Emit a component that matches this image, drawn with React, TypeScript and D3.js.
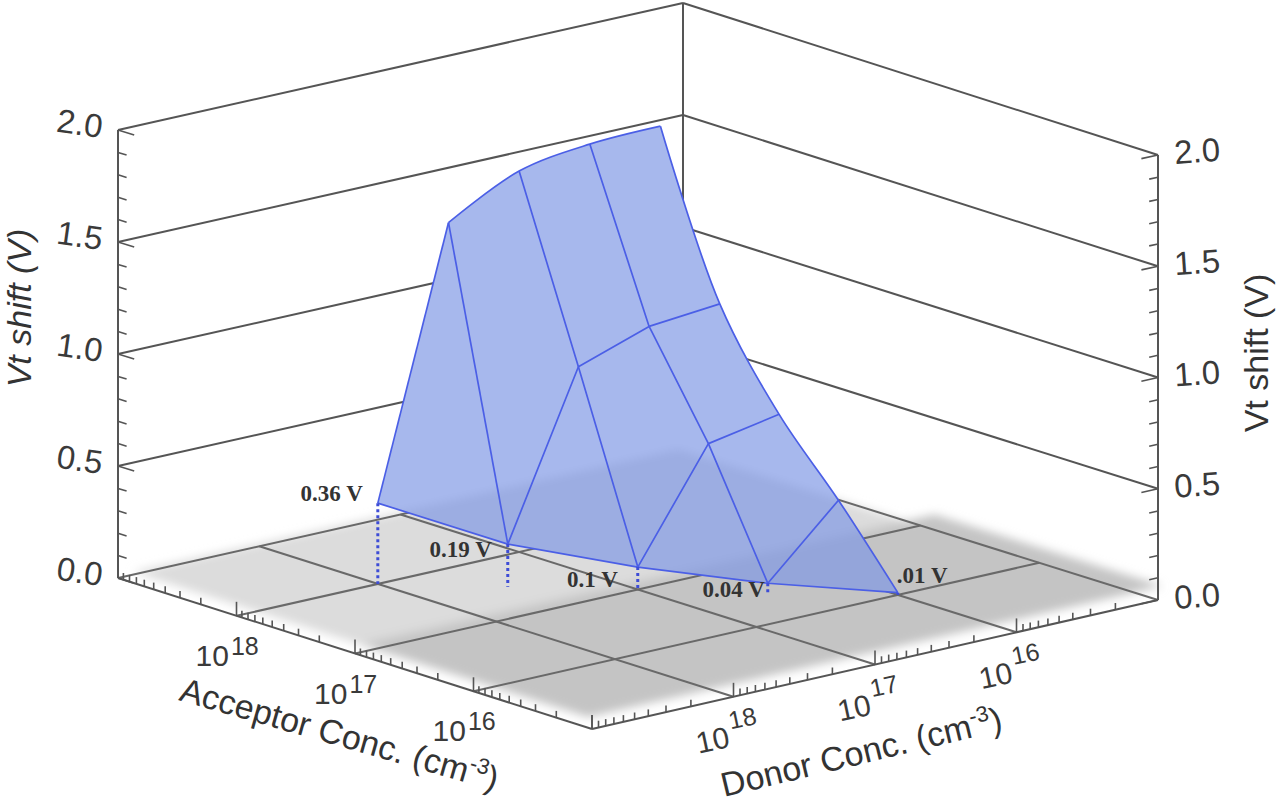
import { useMemo } from 'react'
import * as d3 from 'd3'

// log10 of the concentrations (cm^-3) at the surface grid nodes
const acceptorLevels = [18, 17.5, 17, 16.5, 16]
const donorLevels = [18, 17.5, 17, 16.5, 16]

// Vt shift (V); each row is one acceptor level, starting on the diagonal donor = acceptor
const vtRow18 = [0.36, 1.54, 1.7, 1.75, 1.76]
const vtRow175 = [0.19, 0.91, 1.02, 1.05]
const vtRow17 = [0.1, 0.58, 0.64]
const vtRow165 = [0.04, 0.34]
const vtRow16 = [0.01]
const vtRows = [vtRow18, vtRow175, vtRow17, vtRow165, vtRow16]

const diagonalLabels = ['0.36 V', '0.19 V', '0.1 V', '0.04 V', '.01 V']

const concDomain = [19, 15]
const decadeTicks = [18, 17, 16]
const decadeLabels = ['18', '17', '16']
const majorDecades = [19, 18, 17, 16, 15]
const minorMultipliers = [2, 3, 4, 5, 6, 7, 8, 9]
const vtTicks = [0, 0.5, 1, 1.5, 2]
const vtTickLabels = ['0.0', '0.5', '1.0', '1.5', '2.0']

// layout of the projected box (screen corners of the floor and pixels per volt)
const W = 1280
const H = 810
const cL = [118, 578]
const cF = [592, 729]
const cR = [1158, 600]
const cB = [683, 451]
const zPx = { L: 224, F: 226, R: 222.5, B: 224 }
const labelOffsets: [number, number, string][] = [
  [-15, -2, 'end'],
  [-16, 13, 'end'],
  [-20, 20, 'end'],
  [-3, 14, 'end'],
  [-1, -10, 'start'],
]

const sans = 'Liberation Sans, Arial, Helvetica, sans-serif'
const gridColor = '#555'
const meshColor = '#4b5fe6'

type P = [number, number]

const uOf = d3.scaleLinear().domain(concDomain).range([0, 1])
const vOf = d3.scaleLinear().domain(concDomain).range([0, 1])

function proj(u: number, v: number, z = 0): P {
  const wL = (1 - u) * (1 - v)
  const wF = u * (1 - v)
  const wR = u * v
  const wB = (1 - u) * v
  const x = wL * cL[0] + wF * cF[0] + wR * cR[0] + wB * cB[0]
  const y = wL * cL[1] + wF * cF[1] + wR * cR[1] + wB * cB[1]
  const zp = wL * zPx.L + wF * zPx.F + wR * zPx.R + wB * zPx.B
  return [x, y - z * zp]
}

const pt = (a: number, d: number, z: number) => proj(uOf(a), vOf(d), z)
const poly = (pts: P[]) => 'M' + pts.map((p) => p[0].toFixed(1) + ',' + p[1].toFixed(1)).join('L')

export default function App() {
  const g = useMemo(() => {
    const nodes: P[][] = vtRows.map((row, i) =>
      row.map((z, j) => pt(acceptorLevels[i], donorLevels[i + j], z))
    )
    const curve = d3.line<P>().curve(d3.curveCatmullRom.alpha(0.5))
    const straight = d3.line<P>()
    const front = nodes.map((r) => r[0])
    const right = nodes.map((r) => r[r.length - 1]).reverse()
    const topRow = [...nodes[0]].reverse()
    const top = topRow.slice(0, topRow.length - 1)
    const leftDrop = topRow.slice(topRow.length - 2)
    const edges = [straight(front), curve(right), curve(top), straight(leftDrop)] as string[]
    const outline = edges.map((d, i) => (i === 0 ? d : d.replace(/^M/, 'L'))).join('') + 'Z'

    const rowLines = [1, 2, 3].map((i) => poly(nodes[i]))
    const colLines = [1, 2, 3].map((k) => {
      const pts: P[] = []
      for (let i = 0; i <= k; i++) pts.push(nodes[i][k - i])
      return poly(pts)
    })

    const floorLight = poly([proj(-0.01, 0.035), proj(0.95, 0.035), proj(0.95, 1.0), proj(-0.01, 1.0)]) + 'Z'
    const floorDark = poly([proj(0.47, 0.035), proj(0.95, 0.035), proj(0.95, 1.05), proj(0.47, 1.05)]) + 'Z'

    const floorGrid = [
      ...decadeTicks.map((a) => poly([proj(uOf(a), 0), proj(uOf(a), 1)])),
      ...decadeTicks.map((d) => poly([proj(0, vOf(d)), proj(1, vOf(d))])),
      poly([proj(0, 0), proj(0, 1)]),
      poly([proj(0, 1), proj(1, 1)]),
    ]
    const wallLines = vtTicks
      .filter((z) => z > 0)
      .flatMap((z) => [poly([proj(0, 0, z), proj(0, 1, z)]), poly([proj(0, 1, z), proj(1, 1, z)])])
    wallLines.push(poly([proj(0, 1, 0), proj(0, 1, 2)]))

    const axes = [
      poly([proj(0, 0, 0), proj(0, 0, 2)]),
      poly([proj(1, 1, 0), proj(1, 1, 2)]),
      poly([proj(0, 0), proj(1, 0)]),
      poly([proj(1, 0), proj(1, 1)]),
    ]

    const ticks: string[] = []
    d3.range(0, 2.0001, 0.1).forEach((z, i) => {
      const len = i % 5 === 0 ? 17 : 9
      ticks.push(poly([proj(0, 0, z), proj(len / 497, 0, z)]))
      ticks.push(poly([proj(1, 1, z), proj(1, 1 - len / 580, z)]))
    })
    const logVals: [number, boolean][] = [
      ...majorDecades.map((e) => [e, true] as [number, boolean]),
      ...[15, 16, 17, 18].flatMap((e) =>
        minorMultipliers.map((k) => [e + Math.log10(k), false] as [number, boolean])
      ),
    ]
    logVals.forEach(([c, major]) => {
      const h = major ? 0.062 : 0.03
      ticks.push(poly([proj(uOf(c), 0, 0), proj(uOf(c), 0, h)]))
      ticks.push(poly([proj(1, vOf(c), 0), proj(1, vOf(c), h)]))
    })

    const drops = front.map((p, i) => ({
      top: p,
      bottom: pt(acceptorLevels[i], donorLevels[i], 0),
    }))

    return { outline, edges, rowLines, colLines, floorLight, floorDark, floorGrid, wallLines, axes, ticks, drops }
  }, [])

  return (
    <svg
      width={W}
      height={H}
      viewBox={`0 0 ${W} ${H}`}
      style={{ position: 'absolute', left: 0, top: 0, background: '#fff' }}
    >
      <defs>
        <filter id="soft" x="-10%" y="-20%" width="120%" height="140%">
          <feGaussianBlur stdDeviation="5" />
        </filter>
        <mask id="behind" maskUnits="userSpaceOnUse" x="0" y="0" width={W} height={H}>
          <rect width={W} height={H} fill="white" />
          <path d={g.outline} fill="black" />
        </mask>
      </defs>

      {/* floor */}
      <g filter="url(#soft)">
        <path d={g.floorLight} fill="#dcdcdc" />
        <path d={g.floorDark} fill="#c4c4c4" />
      </g>

      {/* walls and floor grid, hidden behind the surface */}
      <g mask="url(#behind)" fill="none" stroke={gridColor} strokeWidth={2}>
        {g.wallLines.map((d, i) => (
          <path key={'w' + i} d={d} />
        ))}
        {g.floorGrid.map((d, i) => (
          <path key={'f' + i} d={d} stroke="#696969" />
        ))}
      </g>

      <g fill="none" stroke={gridColor} strokeWidth={2}>
        {g.axes.map((d, i) => (
          <path key={'a' + i} d={d} />
        ))}
        {g.ticks.map((d, i) => (
          <path key={'t' + i} d={d} strokeWidth={1.6} />
        ))}
      </g>

      {/* surface */}
      <path d={g.outline} fill="rgb(125,150,228)" fillOpacity={0.68} stroke="none" />
      <g fill="none" stroke={meshColor} strokeWidth={1.7} strokeLinejoin="round">
        {g.edges.map((d, i) => (
          <path key={'e' + i} d={d} />
        ))}
        {g.rowLines.map((d, i) => (
          <path key={'r' + i} d={d} />
        ))}
        {g.colLines.map((d, i) => (
          <path key={'c' + i} d={d} />
        ))}
      </g>

      {/* drop lines and values on the diagonal */}
      {g.drops.map((dp, i) => (
        <g key={'d' + i}>
          <line
            x1={dp.top[0]}
            y1={dp.top[1]}
            x2={dp.bottom[0]}
            y2={dp.bottom[1]}
            stroke="#3d4cd6"
            strokeWidth={3}
            strokeDasharray="3 3"
          />
          <text
            x={dp.top[0] + labelOffsets[i][0]}
            y={dp.top[1] + labelOffsets[i][1]}
            textAnchor={labelOffsets[i][2] as any}
            fontFamily="Liberation Serif, Times New Roman, serif"
            fontWeight="bold"
            fontSize={23}
            fill="#333"
          >
            {diagonalLabels[i]}
          </text>
        </g>
      ))}

      {/* Vt tick labels */}
      {vtTicks.map((z, i) => {
        const [lx, ly] = proj(0, 0, z)
        const [rx, ry] = proj(1, 1, z)
        return (
          <g key={'vl' + i} fontFamily={sans} fontSize={33} fill="#3a3a3a">
            <text transform={`translate(${lx - 17},${ly + 8}) rotate(8)`} textAnchor="end">
              {vtTickLabels[i]}
            </text>
            <text transform={`translate(${rx + 17},${ry + 9}) rotate(-4)`}>{vtTickLabels[i]}</text>
          </g>
        )
      })}

      {/* decade labels */}
      {decadeTicks.map((e, i) => {
        const [ax, ay] = proj(uOf(e), 0, 0)
        const [dx, dy] = proj(1, vOf(e), 0)
        return (
          <g key={'dl' + i} fontFamily={sans} fill="#3a3a3a">
            <text x={ax - 41} y={ay + 50} fontSize={30}>
              10<tspan dx={2} dy={-11} fontSize={25}>{decadeLabels[i]}</tspan>
            </text>
            <text transform={`translate(${dx - 35},${dy + 57}) rotate(-12)`} fontSize={30}>
              10<tspan dx={3} dy={-17} fontSize={25}>{decadeLabels[i]}</tspan>
            </text>
          </g>
        )
      })}

      {/* axis titles */}
      <g fontFamily={sans} fill="#333" fontSize={34}>
        <text transform="translate(31,308) rotate(-90)" textAnchor="middle" fontStyle="italic">
          Vt shift (V)
        </text>
        <text transform="translate(1268,353) rotate(-90)" textAnchor="middle">
          Vt shift (V)
        </text>
        <text transform="translate(178,700) rotate(16)">
          Acceptor Conc. (cm<tspan dy={-13} fontSize={22}>-3</tspan><tspan dy={13}>)</tspan>
        </text>
        <text transform="translate(724,797) rotate(-13.5)">
          Donor Conc. (cm<tspan dy={-13} fontSize={22}>-3</tspan><tspan dy={13}>)</tspan>
        </text>
      </g>
    </svg>
  )
}
